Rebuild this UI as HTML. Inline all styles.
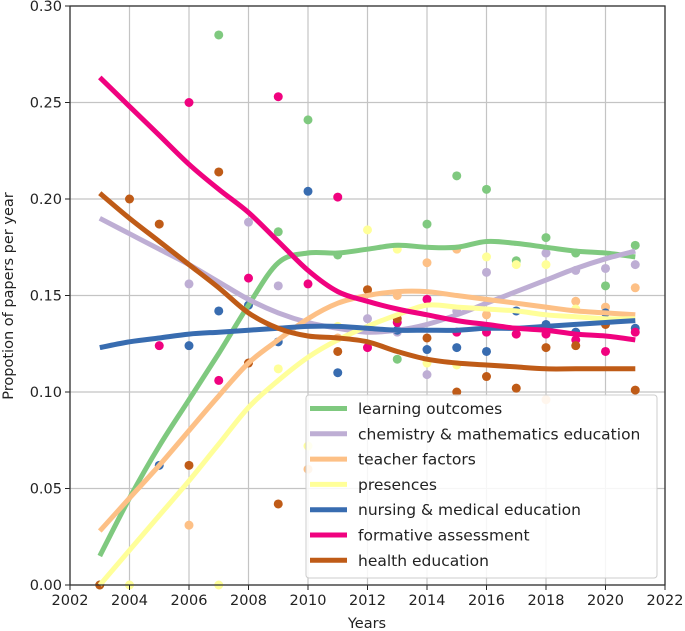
<!DOCTYPE html>
<html><head><meta charset="utf-8"><style>
body{margin:0;background:#fff;}
svg{display:block;font-family:"DejaVu Sans","Liberation Sans",sans-serif;}
</style></head><body>
<svg id="chart" width="685" height="631">
<g id="grid"></g>
<g id="marks"></g>
<g id="axes"></g>
<g id="legend"></g>
<text x="367" y="628" font-size="14.5" text-anchor="middle" fill="#222">Years</text>
<text x="13" y="296" font-size="14.5" text-anchor="middle" fill="#222" transform="rotate(-90 13 296)">Propotion of papers per year</text>
</svg>
<script>
const years=[2003,2004,2005,2006,2007,2008,2009,2010,2011,2012,2013,2014,2015,2016,2017,2018,2019,2020,2021];
const xTicks=[2002,2004,2006,2008,2010,2012,2014,2016,2018,2020,2022];
const yTicks=[0,0.05,0.10,0.15,0.20,0.25,0.30];
const seriesNames=["learning outcomes","chemistry & mathematics education","teacher factors","presences","nursing & medical education","formative assessment","health education"];
const seriesColors=["#7fc97f","#beaed4","#fdc086","#ffff99","#386cb0","#f0027f","#bf5b17"];
const lineLearning=[.015,.045,.072,.096,.12,.145,.167,.172,.172,.174,.176,.175,.175,.178,.177,.175,.173,.172,.170];
const lineChem=[.19,.182,.174,.166,.157,.148,.141,.136,.133,.131,.132,.135,.140,.146,.152,.158,.164,.169,.173];
const lineTeacher=[.028,.045,.062,.08,.098,.115,.127,.138,.146,.150,.152,.152,.150,.148,.146,.144,.142,.141,.140];
const linePresence=[0,.018,.036,.054,.073,.092,.106,.118,.127,.134,.140,.145,.144,.143,.142,.140,.139,.138,.138];
const lineNursing=[.123,.126,.128,.130,.131,.132,.133,.134,.134,.133,.132,.132,.132,.133,.133,.134,.135,.136,.137];
const lineFormative=[.263,.248,.233,.218,.205,.193,.178,.163,.152,.147,.143,.140,.137,.135,.133,.132,.130,.129,.127];
const lineHealth=[.203,.19,.178,.166,.154,.141,.133,.129,.128,.126,.121,.117,.115,.114,.113,.112,.112,.112,.112];
const ptsLearning=[[2003,0],[2007,.285],[2009,.183],[2010,.241],[2011,.171],[2013,.117],[2014,.187],[2015,.212],[2016,.205],[2017,.168],[2018,.180],[2019,.172],[2020,.155],[2021,.176]];
const ptsChem=[[2006,.156],[2008,.188],[2009,.155],[2012,.138],[2013,.131],[2014,.109],[2015,.142],[2016,.162],[2017,.142],[2018,.172],[2019,.163],[2020,.164],[2021,.166]];
const ptsTeacher=[[2006,.031],[2010,.06],[2011,.128],[2012,.153],[2013,.150],[2014,.167],[2015,.174],[2016,.140],[2017,.130],[2018,.096],[2019,.147],[2020,.144],[2021,.154]];
const ptsPresence=[[2004,0],[2007,0],[2009,.112],[2010,.072],[2011,.134],[2012,.184],[2013,.174],[2014,.115],[2015,.114],[2016,.170],[2017,.166],[2018,.166],[2019,.143]];
const ptsNursing=[[2005,.062],[2006,.124],[2007,.142],[2008,.145],[2009,.126],[2010,.204],[2011,.110],[2013,.132],[2014,.122],[2015,.123],[2016,.121],[2017,.142],[2018,.135],[2019,.131],[2020,.141],[2021,.133]];
const ptsFormative=[[2005,.124],[2006,.25],[2007,.106],[2008,.159],[2009,.253],[2010,.156],[2011,.201],[2012,.123],[2013,.136],[2014,.148],[2015,.131],[2016,.131],[2017,.130],[2018,.130],[2019,.127],[2020,.121],[2021,.131]];
const ptsHealth=[[2003,0],[2004,.2],[2005,.187],[2006,.062],[2007,.214],[2008,.115],[2009,.042],[2011,.121],[2012,.153],[2013,.138],[2014,.128],[2015,.100],[2016,.108],[2017,.102],[2018,.123],[2019,.124],[2020,.135],[2021,.101]];

const lines=[lineLearning,lineChem,lineTeacher,linePresence,lineNursing,lineFormative,lineHealth];
const pts=[ptsLearning,ptsChem,ptsTeacher,ptsPresence,ptsNursing,ptsFormative,ptsHealth];
const X0=70,X1=665,Y0=585,Y1=6;
const xS=v=>X0+(v-2002)/(2022-2002)*(X1-X0);
const yS=v=>Y0-(v/0.30)*(Y0-Y1);
const NS="http://www.w3.org/2000/svg";
function mk(t,a,p){const e=document.createElementNS(NS,t);for(const k in a)e.setAttribute(k,a[k]);p.appendChild(e);return e;}
function smooth(P){let d='M'+P[0][0].toFixed(1)+','+P[0][1].toFixed(1);
  for(let i=0;i<P.length-1;i++){const p0=P[i-1]||P[i],p1=P[i],p2=P[i+1],p3=P[i+2]||p2;
    const c1=[p1[0]+(p2[0]-p0[0])/6,p1[1]+(p2[1]-p0[1])/6],c2=[p2[0]-(p3[0]-p1[0])/6,p2[1]-(p3[1]-p1[1])/6];
    d+='C'+c1[0].toFixed(1)+','+c1[1].toFixed(1)+' '+c2[0].toFixed(1)+','+c2[1].toFixed(1)+' '+p2[0].toFixed(1)+','+p2[1].toFixed(1);}
  return d;}
const grid=document.getElementById('grid'),marks=document.getElementById('marks'),axes=document.getElementById('axes'),legend=document.getElementById('legend');
xTicks.forEach(t=>{
  const g=mk('line',{x1:xS(t),x2:xS(t),y1:Y1,y2:Y0,stroke:'#c4c4c4','stroke-width':1.2},grid);
  
  
  mk('line',{x1:xS(t),x2:xS(t),y1:Y0,y2:Y0+5,stroke:'#222'},axes);
  const l=mk('text',{x:xS(t),y:Y0+20,'font-size':14.5,'text-anchor':'middle',fill:'#222'},axes);l.textContent=t;
  
  
});
yTicks.forEach(t=>{
  const g=mk('line',{x1:X0,x2:X1,y1:yS(t),y2:yS(t),stroke:'#c4c4c4','stroke-width':1.2},grid);
  
  
  mk('line',{x1:X0-5,x2:X0,y1:yS(t),y2:yS(t),stroke:'#222'},axes);
  const l=mk('text',{x:X0-8,y:yS(t)+5,'font-size':14.5,'text-anchor':'end',fill:'#222'},axes);l.textContent=t.toFixed(2);
  
  
});
mk('rect',{x:X0,y:Y1,width:X1-X0,height:Y0-Y1,fill:'none',stroke:'#333','stroke-width':1.3},axes);
pts.forEach((s,i)=>{s.forEach(p=>{
  const c=mk('circle',{cx:xS(p[0]),cy:yS(p[1]),r:4.5,fill:seriesColors[i]},marks);
  
  
});});
lines.forEach((s,i)=>{
  const P=s.map((v,j)=>[xS(years[j]),yS(v)]);
  const p=mk('path',{d:smooth(P),fill:'none',stroke:seriesColors[i],'stroke-width':5,'stroke-linejoin':'round'},marks);
  
  
});
mk('rect',{x:306,y:395,width:351,height:183,rx:3,fill:'#fff','fill-opacity':0.85,stroke:'#ccc'},legend);
seriesNames.forEach((n,i)=>{
  const y=408.5+i*25.3;
  const g=mk('g',{},legend);
  
  
  mk('line',{x1:310,x2:347,y1:y,y2:y,stroke:seriesColors[i],'stroke-width':5},g);
  const t=mk('text',{x:358,y:y+5.5,'font-size':15.5,fill:'#222'},g);t.textContent=n;
});
</script>
</body></html>
